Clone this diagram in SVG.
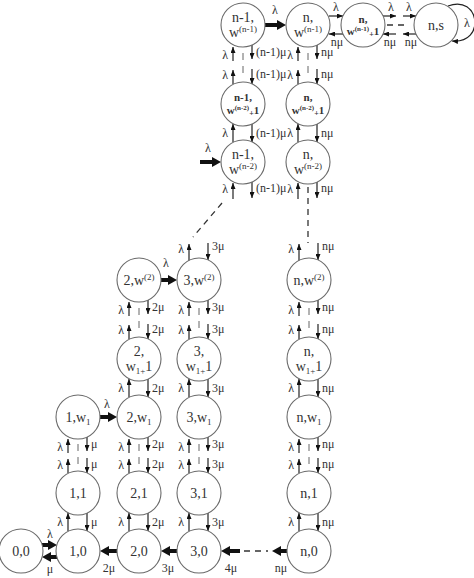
<svg xmlns="http://www.w3.org/2000/svg" width="474" height="578" viewBox="0 0 474 578">
<defs>
<marker id="ah" markerUnits="userSpaceOnUse" markerWidth="6" markerHeight="5" refX="6" refY="2.5" orient="auto"><path d="M0,0 L6,2.5 L0,5 z" fill="#111"/></marker>
<marker id="th" markerUnits="userSpaceOnUse" markerWidth="9" markerHeight="10" refX="0" refY="5" orient="auto"><path d="M0,0 L9,5 L0,10 z" fill="#111"/></marker>
<style>
.nd circle{fill:#fff;stroke:#6a6a6a;stroke-width:1.1}
.nd text{font-family:"Liberation Serif","Times New Roman",serif;font-size:14px;fill:#333;text-anchor:middle}
.nd text.b{font-weight:bold;font-size:11px}
.a{stroke:#222;stroke-width:1.2;fill:none;marker-end:url(#ah)}
.t{stroke:#111;stroke-width:4;marker-end:url(#th)}
.d{stroke:#333;stroke-width:1.3;stroke-dasharray:6 5;fill:none}
.g{stroke:#666;stroke-width:1}
.lb text{font-family:"Liberation Serif","Times New Roman",serif;font-size:12px;fill:#333}
.lb .e{text-anchor:end}
.lb .m{text-anchor:middle}
</style>
</defs>
<rect width="474" height="578" fill="#fff"/>

<g id="connectors">
<line class="t" x1="265" y1="25" x2="277" y2="25"/>
<line class="a" x1="329" y1="16" x2="343" y2="16"/>
<line class="a" x1="343" y1="34" x2="329" y2="34"/>
<line class="a" x1="383" y1="16" x2="396" y2="16"/>
<line class="a" x1="403" y1="16" x2="416" y2="16"/>
<line class="a" x1="396" y1="34" x2="383" y2="34"/>
<line class="a" x1="416" y1="34" x2="403" y2="34"/>
<line class="d" x1="387" y1="25" x2="408" y2="25" stroke-dasharray="7 5"/>
<path class="a" d="M448,6 C480,-6 486,44 452,41"/>
<line class="a" x1="233" y1="61" x2="233" y2="47"/>
<line class="a" x1="252" y1="45" x2="252" y2="59"/>
<line class="a" x1="233" y1="84" x2="233" y2="70"/>
<line class="a" x1="252" y1="69" x2="252" y2="84"/>
<line class="g" x1="243" y1="53" x2="243" y2="60"/>
<line class="g" x1="243" y1="66" x2="243" y2="73"/>
<line class="a" x1="233" y1="142" x2="233" y2="124"/>
<line class="a" x1="252" y1="124" x2="252" y2="142"/>
<line class="t" x1="200" y1="162" x2="212" y2="162"/>
<line class="a" x1="233" y1="199" x2="233" y2="183"/>
<line class="a" x1="252" y1="182" x2="252" y2="198"/>
<line class="a" x1="298" y1="61" x2="298" y2="47"/>
<line class="a" x1="317" y1="45" x2="317" y2="59"/>
<line class="a" x1="298" y1="84" x2="298" y2="70"/>
<line class="a" x1="317" y1="69" x2="317" y2="84"/>
<line class="g" x1="308" y1="53" x2="308" y2="60"/>
<line class="g" x1="308" y1="66" x2="308" y2="73"/>
<line class="a" x1="298" y1="142" x2="298" y2="124"/>
<line class="a" x1="317" y1="124" x2="317" y2="142"/>
<line class="a" x1="298" y1="199" x2="298" y2="183"/>
<line class="a" x1="317" y1="182" x2="317" y2="198"/>
<line class="d" x1="222" y1="203" x2="193" y2="237"/>
<line class="d" x1="308" y1="187" x2="308" y2="243"/>
<line class="a" x1="189" y1="261" x2="189" y2="244"/>
<line class="a" x1="208" y1="243" x2="208" y2="260"/>
<line class="a" x1="299" y1="261" x2="299" y2="244"/>
<line class="a" x1="318" y1="243" x2="318" y2="260"/>
<line class="t" x1="161" y1="280" x2="168" y2="280"/>
<line class="a" x1="129" y1="316" x2="129" y2="302"/>
<line class="a" x1="148" y1="300" x2="148" y2="314"/>
<line class="a" x1="129" y1="339" x2="129" y2="325"/>
<line class="a" x1="148" y1="324" x2="148" y2="339"/>
<line class="g" x1="139" y1="308" x2="139" y2="315"/>
<line class="g" x1="139" y1="321" x2="139" y2="328"/>
<line class="a" x1="129" y1="397" x2="129" y2="379"/>
<line class="a" x1="148" y1="379" x2="148" y2="397"/>
<line class="a" x1="129" y1="453" x2="129" y2="439"/>
<line class="a" x1="148" y1="437" x2="148" y2="451"/>
<line class="a" x1="129" y1="473" x2="129" y2="459"/>
<line class="a" x1="148" y1="458" x2="148" y2="473"/>
<line class="g" x1="139" y1="444" x2="139" y2="451"/>
<line class="g" x1="139" y1="457" x2="139" y2="464"/>
<line class="a" x1="129" y1="531" x2="129" y2="513"/>
<line class="a" x1="148" y1="513" x2="148" y2="531"/>
<line class="a" x1="189" y1="316" x2="189" y2="302"/>
<line class="a" x1="208" y1="300" x2="208" y2="314"/>
<line class="a" x1="189" y1="339" x2="189" y2="325"/>
<line class="a" x1="208" y1="324" x2="208" y2="339"/>
<line class="g" x1="199" y1="308" x2="199" y2="315"/>
<line class="g" x1="199" y1="321" x2="199" y2="328"/>
<line class="a" x1="189" y1="397" x2="189" y2="379"/>
<line class="a" x1="208" y1="379" x2="208" y2="397"/>
<line class="a" x1="189" y1="453" x2="189" y2="439"/>
<line class="a" x1="208" y1="437" x2="208" y2="451"/>
<line class="a" x1="189" y1="473" x2="189" y2="459"/>
<line class="a" x1="208" y1="458" x2="208" y2="473"/>
<line class="g" x1="199" y1="444" x2="199" y2="451"/>
<line class="g" x1="199" y1="457" x2="199" y2="464"/>
<line class="a" x1="189" y1="531" x2="189" y2="513"/>
<line class="a" x1="208" y1="513" x2="208" y2="531"/>
<line class="a" x1="299" y1="316" x2="299" y2="302"/>
<line class="a" x1="318" y1="300" x2="318" y2="314"/>
<line class="a" x1="299" y1="339" x2="299" y2="325"/>
<line class="a" x1="318" y1="324" x2="318" y2="339"/>
<line class="g" x1="309" y1="308" x2="309" y2="315"/>
<line class="g" x1="309" y1="321" x2="309" y2="328"/>
<line class="a" x1="299" y1="397" x2="299" y2="379"/>
<line class="a" x1="318" y1="379" x2="318" y2="397"/>
<line class="a" x1="299" y1="453" x2="299" y2="439"/>
<line class="a" x1="318" y1="437" x2="318" y2="451"/>
<line class="a" x1="299" y1="473" x2="299" y2="459"/>
<line class="a" x1="318" y1="458" x2="318" y2="473"/>
<line class="g" x1="309" y1="444" x2="309" y2="451"/>
<line class="g" x1="309" y1="457" x2="309" y2="464"/>
<line class="a" x1="299" y1="531" x2="299" y2="513"/>
<line class="a" x1="318" y1="513" x2="318" y2="531"/>
<line class="t" x1="100" y1="417" x2="108" y2="417"/>
<line class="a" x1="68" y1="453" x2="68" y2="439"/>
<line class="a" x1="87" y1="437" x2="87" y2="451"/>
<line class="a" x1="68" y1="473" x2="68" y2="459"/>
<line class="a" x1="87" y1="458" x2="87" y2="473"/>
<line class="g" x1="78" y1="444" x2="78" y2="451"/>
<line class="g" x1="78" y1="457" x2="78" y2="464"/>
<line class="a" x1="68" y1="531" x2="68" y2="513"/>
<line class="a" x1="87" y1="513" x2="87" y2="531"/>
<line class="t" x1="42" y1="545" x2="48" y2="545"/>
<line class="t" x1="57" y1="557" x2="51" y2="557"/>
<line class="t" x1="117" y1="551" x2="109" y2="551"/>
<line class="t" x1="177" y1="551" x2="170" y2="551"/>
<line class="t" x1="240" y1="551" x2="230" y2="551"/>
<line class="d" x1="244" y1="551" x2="268" y2="551"/>
<line class="t" x1="287" y1="551" x2="281" y2="551"/>
</g>

<g id="edge-labels" class="lb">
<text class="m" x="275" y="14">λ</text>
<text class="m" x="336" y="11">λ</text>
<text class="m" x="337" y="46">nμ</text>
<text class="m" x="391" y="11">λ</text>
<text class="m" x="409" y="11">λ</text>
<text class="m" x="390" y="46">nμ</text>
<text class="m" x="411" y="46">nμ</text>
<text class="m" x="467" y="27">λ</text>
<text class="e" x="228" y="59">λ</text>
<text x="256" y="56">(n-1)μ</text>
<text class="e" x="228" y="79">λ</text>
<text x="256" y="78">(n-1)μ</text>
<text class="e" x="293" y="59">λ</text>
<text x="321" y="56">nμ</text>
<text class="e" x="293" y="79">λ</text>
<text x="321" y="78">nμ</text>
<text class="e" x="228" y="137">λ</text>
<text x="256" y="137">(n-1)μ</text>
<text class="e" x="293" y="137">λ</text>
<text x="321" y="137">nμ</text>
<text class="m" x="208" y="152">λ</text>
<text class="e" x="228" y="193">λ</text>
<text x="256" y="192">(n-1)μ</text>
<text class="e" x="293" y="193">λ</text>
<text x="321" y="192">nμ</text>
<text class="e" x="184" y="253">λ</text>
<text x="212" y="250">3μ</text>
<text class="e" x="294" y="253">λ</text>
<text x="322" y="250">nμ</text>
<text class="m" x="166" y="267">λ</text>
<text class="e" x="124" y="314">λ</text>
<text x="152" y="311">2μ</text>
<text class="e" x="124" y="334">λ</text>
<text x="152" y="333">2μ</text>
<text class="e" x="124" y="392">λ</text>
<text x="152" y="392">2μ</text>
<text class="e" x="124" y="451">λ</text>
<text x="152" y="448">2μ</text>
<text class="e" x="124" y="469">λ</text>
<text x="152" y="468">2μ</text>
<text class="e" x="124" y="526">λ</text>
<text x="152" y="526">2μ</text>
<text class="e" x="184" y="314">λ</text>
<text x="212" y="311">3μ</text>
<text class="e" x="184" y="334">λ</text>
<text x="212" y="333">3μ</text>
<text class="e" x="184" y="392">λ</text>
<text x="212" y="392">3μ</text>
<text class="e" x="184" y="451">λ</text>
<text x="212" y="448">3μ</text>
<text class="e" x="184" y="469">λ</text>
<text x="212" y="468">3μ</text>
<text class="e" x="184" y="526">λ</text>
<text x="212" y="526">3μ</text>
<text class="e" x="294" y="314">λ</text>
<text x="322" y="311">nμ</text>
<text class="e" x="294" y="334">λ</text>
<text x="322" y="333">nμ</text>
<text class="e" x="294" y="392">λ</text>
<text x="322" y="392">nμ</text>
<text class="e" x="294" y="451">λ</text>
<text x="322" y="448">nμ</text>
<text class="e" x="294" y="469">λ</text>
<text x="322" y="468">nμ</text>
<text class="e" x="294" y="526">λ</text>
<text x="322" y="526">nμ</text>
<text class="m" x="107" y="408">λ</text>
<text class="e" x="63" y="451">λ</text>
<text x="91" y="448">μ</text>
<text class="e" x="63" y="469">λ</text>
<text x="91" y="468">μ</text>
<text class="e" x="63" y="526">λ</text>
<text x="91" y="526">μ</text>
<text class="m" x="50" y="538">λ</text>
<text class="m" x="50" y="573">μ</text>
<text class="m" x="109" y="572">2μ</text>
<text class="m" x="168" y="572">3μ</text>
<text class="m" x="231" y="572">4μ</text>
<text class="m" x="281" y="572">nμ</text>
</g>

<g id="n-1_wn-1" class="nd"><circle cx="243" cy="25" r="22"/><text x="243" y="22">n-1,</text><text x="243" y="37">w<tspan dy="-5" font-size="9">(n-1)</tspan></text></g>
<g id="n_wn-1" class="nd"><circle cx="308" cy="25" r="22"/><text x="308" y="22">n,</text><text x="308" y="37">w<tspan dy="-5" font-size="9">(n-1)</tspan></text></g>
<g id="n_wn-1_1" class="nd"><circle cx="363" cy="25" r="22"/><text class="b" x="363" y="23">n,</text><text class="b" x="363" y="35">w<tspan dy="-4" font-size="7">(n-1)</tspan><tspan dy="6" font-size="8">+</tspan><tspan dy="-2">1</tspan></text></g>
<g id="n_s" class="nd"><circle cx="436" cy="25" r="22"/><text x="436" y="30">n,s</text></g>
<g id="n-1_wn-2_1" class="nd"><circle cx="243" cy="104" r="22"/><text class="b" x="243" y="101" font-size="12">n-1,</text><text class="b" x="243" y="114">w<tspan dy="-4" font-size="7">(n-2)</tspan><tspan dy="6" font-size="8">+</tspan><tspan dy="-2">1</tspan></text></g>
<g id="n_wn-2_1" class="nd"><circle cx="308" cy="104" r="22"/><text class="b" x="308" y="101" font-size="12">n,</text><text class="b" x="308" y="114">w<tspan dy="-4" font-size="7">(n-2)</tspan><tspan dy="6" font-size="8">+</tspan><tspan dy="-2">1</tspan></text></g>
<g id="n-1_wn-2" class="nd"><circle cx="243" cy="162" r="22"/><text x="243" y="159">n-1,</text><text x="243" y="174">w<tspan dy="-5" font-size="9">(n-2)</tspan></text></g>
<g id="n_wn-2" class="nd"><circle cx="308" cy="162" r="22"/><text x="308" y="159">n,</text><text x="308" y="174">w<tspan dy="-5" font-size="9">(n-2)</tspan></text></g>

<g id="2_w2" class="nd"><circle cx="139" cy="280" r="22"/><text x="139" y="285">2,w<tspan dy="-5" font-size="9">(2)</tspan></text></g>
<g id="3_w2" class="nd"><circle cx="199" cy="280" r="22"/><text x="199" y="285">3,w<tspan dy="-5" font-size="9">(2)</tspan></text></g>
<g id="n_w2" class="nd"><circle cx="309" cy="280" r="22"/><text x="309" y="285">n,w<tspan dy="-5" font-size="9">(2)</tspan></text></g>

<g id="2_w1_1" class="nd"><circle cx="139" cy="359" r="22"/><text x="139" y="356">2,</text><text x="139" y="371">w<tspan dy="3" font-size="9">1+</tspan><tspan dy="-3">1</tspan></text></g>
<g id="3_w1_1" class="nd"><circle cx="199" cy="359" r="22"/><text x="199" y="356">3,</text><text x="199" y="371">w<tspan dy="3" font-size="9">1+</tspan><tspan dy="-3">1</tspan></text></g>
<g id="n_w1_1" class="nd"><circle cx="309" cy="359" r="22"/><text x="309" y="356">n,</text><text x="309" y="371">w<tspan dy="3" font-size="9">1+</tspan><tspan dy="-3">1</tspan></text></g>

<g id="1_w1" class="nd"><circle cx="78" cy="417" r="22"/><text x="78" y="422">1,w<tspan dy="3" font-size="9">1</tspan></text></g>
<g id="2_w1" class="nd"><circle cx="139" cy="417" r="22"/><text x="139" y="422">2,w<tspan dy="3" font-size="9">1</tspan></text></g>
<g id="3_w1" class="nd"><circle cx="199" cy="417" r="22"/><text x="199" y="422">3,w<tspan dy="3" font-size="9">1</tspan></text></g>
<g id="n_w1" class="nd"><circle cx="309" cy="417" r="22"/><text x="309" y="422">n,w<tspan dy="3" font-size="9">1</tspan></text></g>

<g id="1_1" class="nd"><circle cx="78" cy="493" r="22"/><text x="78" y="498">1,1</text></g>
<g id="2_1" class="nd"><circle cx="139" cy="493" r="22"/><text x="139" y="498">2,1</text></g>
<g id="3_1" class="nd"><circle cx="199" cy="493" r="22"/><text x="199" y="498">3,1</text></g>
<g id="n_1" class="nd"><circle cx="309" cy="493" r="22"/><text x="309" y="498">n,1</text></g>

<g id="0_0" class="nd"><circle cx="21" cy="551" r="22"/><text x="21" y="556">0,0</text></g>
<g id="1_0" class="nd"><circle cx="78" cy="551" r="22"/><text x="78" y="556">1,0</text></g>
<g id="2_0" class="nd"><circle cx="139" cy="551" r="22"/><text x="139" y="556">2,0</text></g>
<g id="3_0" class="nd"><circle cx="199" cy="551" r="22"/><text x="199" y="556">3,0</text></g>
<g id="n_0" class="nd"><circle cx="309" cy="551" r="22"/><text x="309" y="556">n,0</text></g>
</svg>
